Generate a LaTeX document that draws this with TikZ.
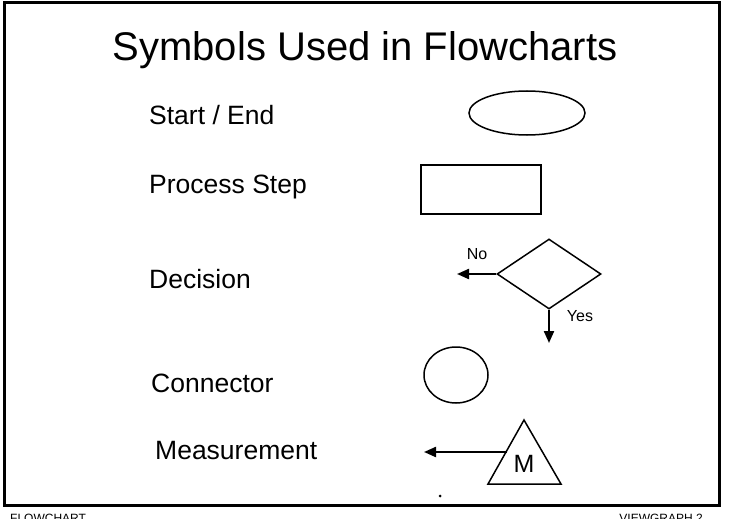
\documentclass[tikz,border=0pt]{standalone}
\usepackage{fontspec}
\setmainfont{Liberation Sans}
\usetikzlibrary{shapes.geometric,arrows.meta}
\begin{document}
\begin{tikzpicture}[x=1pt,y=-1pt,
  lbl/.style={anchor=west,font=\fontsize{26.5}{30}\selectfont,inner sep=0},
  shp/.style={draw,line width=1.5pt},
  arr/.style={line width=2.2pt,-{Triangle[length=12pt,width=10pt]}}]
\useasboundingbox (0,0) rectangle (729,519);
\clip (0,0) rectangle (729,519);
\fill[white] (0,0) rectangle (729,519);
\draw[line width=3pt] (4,3) rectangle (719,505);
\node[font=\fontsize{40}{46}\selectfont] (title) at (365,50) {Symbols Used in Flowcharts};
\node[lbl] (l1) at (149,115) {Start / End};
\node[lbl] (l2) at (149,187) {Process Step};
\node[lbl] (l3) at (149,279) {Decision};
\node[lbl] (l4) at (151,383) {Connector};
\node[lbl] (l5) at (155,451) {Measurement};
\node[shp,ellipse,minimum width=116pt,minimum height=44pt,inner sep=0] (se) at (527,113) {};
\node[shp,rectangle,minimum width=120pt,minimum height=49pt,inner sep=0] (ps) at (481,189.5) {};
\node[shp,diamond,minimum width=104pt,minimum height=70pt,inner sep=0,aspect=1.5] (dc) at (549,274) {};
\coordinate (no) at (457,274);
\coordinate (yes) at (549,343);
\draw[arr] (dc.west) -- (no);
\draw[arr] (dc.south) -- (yes);
\node[font=\fontsize{16}{18}\selectfont] (nol) at (477,254) {No};
\node[font=\fontsize{16}{18}\selectfont] (yesl) at (580,316) {Yes};
\node[shp,ellipse,minimum width=64pt,minimum height=56pt,inner sep=0] (cn) at (456,375) {};
\draw[shp] (524,420) coordinate (ta) -- (561,484) -- (488,484) -- cycle;
\node[font=\fontsize{25}{28}\selectfont] (m) at (524,464) {M};
\coordinate (tl) at (507,452);
\coordinate (ms) at (424,452);
\draw[arr] (tl) -- (ms);
\fill (440,496) circle (1.5);
\node[anchor=north west,font=\fontsize{12}{13}\selectfont,inner sep=0] (f1) at (10,514) {FLOWCHART};
\node[anchor=north east,font=\fontsize{12}{13}\selectfont,inner sep=0] (f2) at (703,514) {VIEWGRAPH 2};
\end{tikzpicture}
\end{document}
